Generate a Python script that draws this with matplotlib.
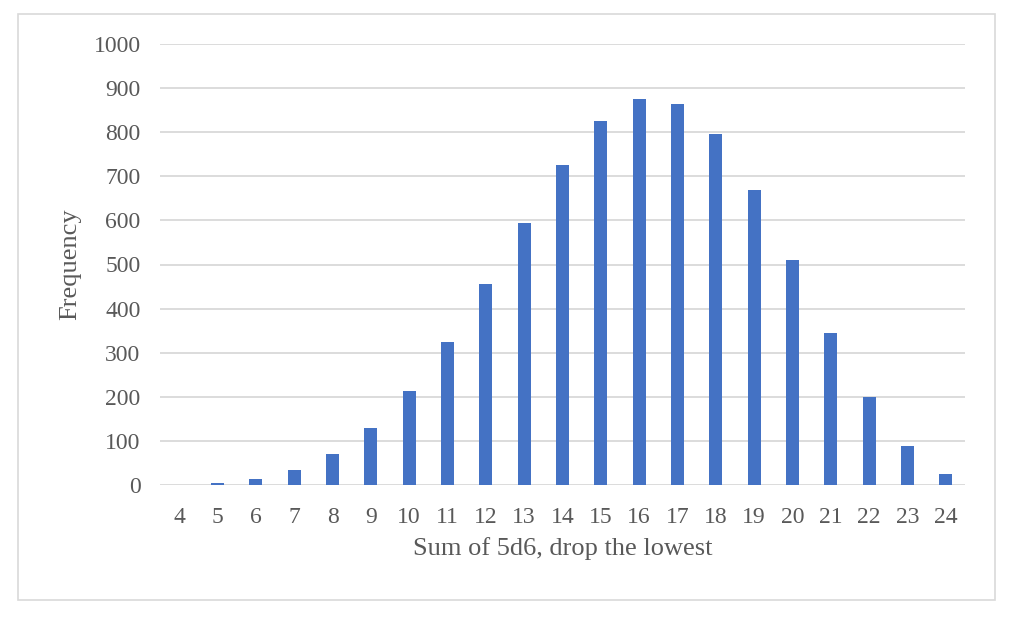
import matplotlib
matplotlib.use("Agg")
import matplotlib.pyplot as plt
from matplotlib.patches import Rectangle

# sum of 5d6 drop the lowest, frequency counts
sums = [4, 5, 6, 7, 8, 9, 10, 11, 12, 13, 14, 15, 16, 17, 18, 19, 20, 21, 22, 23, 24]
freq = [0, 4, 14, 34, 71, 129, 214, 325, 455, 595, 725, 825, 875, 865, 795, 670, 510, 344, 199, 89, 26]
yticks = list(range(0, 1001, 100))

plt.rcParams['font.family'] = ['Liberation Serif', 'DejaVu Serif']

fig = plt.figure(figsize=(10.24, 6.27), dpi=100)
ax = fig.add_axes([160/1024, 1-485/627, 805/1024, 441/627])

ax.bar(sums, freq, width=0.34, color='#4472C4', zorder=3)

ax.set_xlim(3.5, 24.5)
ax.set_ylim(0, 1000)
ax.set_xticks(sums)
ax.set_yticks(yticks)
ax.tick_params(length=0, labelsize=17, colors='#595959')
ax.tick_params(axis='x', pad=16)
ax.tick_params(axis='y', pad=14)
ax.grid(axis='y', color='#d9d9d9', linewidth=1.3, zorder=0)
for s in ax.spines.values():
    s.set_visible(False)

ax.set_xlabel("Sum of 5d6, drop the lowest", fontsize=19, color='#595959', labelpad=6)
ax.set_ylabel("Frequency", fontsize=19, color='#595959', labelpad=9)

# outer chart border
fig.patches.append(Rectangle((18/1024, 1-600/627), 977/1024, 586/627,
                             transform=fig.transFigure, fill=False,
                             edgecolor='#d9d9d9', linewidth=1.2))

fig.savefig("out.png", dpi=100)
